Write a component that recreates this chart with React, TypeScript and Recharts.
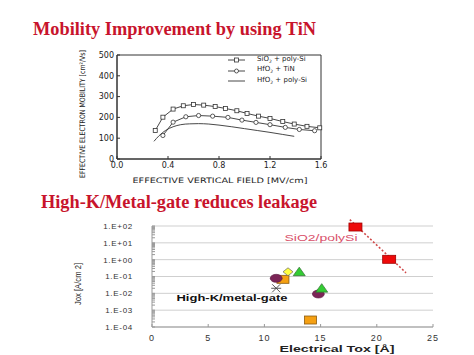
import React from 'react';
import {
  LineChart, Line, XAxis, YAxis, ReferenceArea,
  ScatterChart, Scatter, ReferenceLine,
} from 'recharts';

// ---- top chart: mobility vs effective field ----
const fieldTicks = [0, 0.4, 0.8, 1.2, 1.6];
const mobTicks = [0, 100, 200, 300, 400, 500];

const fieldSi = [0.30, 0.36, 0.44, 0.52, 0.60, 0.68, 0.77, 0.85, 0.94, 1.02, 1.11, 1.20, 1.30, 1.39, 1.49, 1.59];
const mobSi = [137, 201, 240, 256, 262, 259, 252, 243, 232, 219, 206, 195, 180, 168, 157, 150];

const fieldTiN = [0.36, 0.44, 0.54, 0.64, 0.75, 0.87, 0.98, 1.09, 1.20, 1.32, 1.43, 1.55];
const mobTiN = [113, 177, 203, 209, 206, 200, 187, 176, 165, 152, 142, 136];

const fieldPoly = [0.29, 0.33, 0.38, 0.44, 0.50, 0.57, 0.64, 0.72, 0.80, 0.90, 1.00, 1.10, 1.20, 1.30, 1.39];
const mobPoly = [85, 112, 137, 155, 165, 169, 170, 168, 163, 155, 146, 137, 128, 118, 109];

// ---- bottom chart: leakage vs electrical Tox ----
const toxTicks = [0, 5, 10, 15, 20, 25];
const joxDecades = [1e-4, 1e-3, 1e-2, 1e-1, 1, 10, 100];
const joxMinor = joxDecades.slice(0, -1).flatMap((d) => [2, 3, 4, 5, 6, 7, 8, 9].map((m) => d * m));

const sio2Tox = [18.1, 21.1];
const sio2Jox = [87, 1.05];
const sio2TrendTox = [17.6, 22.6];
const sio2TrendJox = [240, 0.166];

const orangeTox = [11.65, 14.1];
const orangeJox = [0.068, 0.00026];
const purpleTox = [11.05, 14.8];
const purpleJox = [0.078, 0.0091];
const yellowTox = [12.1];
const yellowJox = [0.19];
const greenTox = [13.1, 15.1];
const greenJox = [0.18, 0.019];
const starTox = [11.05];
const starJox = [0.02];

const pts = (xs: number[], ys: number[]) => xs.map((x, i) => ({ x, y: ys[i] }));

const INK = '#333';
const sans = 'DejaVu Sans';

const SquareDot = (p: any) => (
  <rect key={p.index} x={p.cx - 2} y={p.cy - 2} width={4} height={4} fill="#fff" stroke={INK} strokeWidth={0.8} />
);
const CircleDot = (p: any) => (
  <circle key={p.index} cx={p.cx} cy={p.cy} r={2.1} fill="#fff" stroke={INK} strokeWidth={0.8} />
);

const legendRows = [
  { name: 'SiO', rest: ' + poly-Si', mark: 'square' },
  { name: 'HfO', rest: ' + TiN', mark: 'circle' },
  { name: 'HfO', rest: ' + poly-Si', mark: 'none' },
];

const MobilityLegend = () => (
  <div style={{ position: 'absolute', left: 227, top: 55, fontFamily: sans, fontSize: 7, color: '#222', lineHeight: 1 }}>
    {legendRows.map((r, i) => (
      <div key={i} style={{ display: 'flex', alignItems: 'center', height: 10.5 }}>
        <svg width={30} height={8}>
          <line x1={1} x2={18} y1={4} y2={4} stroke={INK} strokeWidth={0.9} />
          {r.mark === 'square' && <rect x={7.5} y={2} width={4} height={4} fill="#fff" stroke={INK} strokeWidth={0.8} />}
          {r.mark === 'circle' && <circle cx={9.5} cy={4} r={2} fill="#fff" stroke={INK} strokeWidth={0.8} />}
        </svg>
        <span style={{ whiteSpace: 'nowrap' }}>
          {r.name}<sub style={{ fontSize: 4.5, verticalAlign: 'sub' }}>2</sub>{r.rest}
        </span>
      </div>
    ))}
  </div>
);

const expLabel = (v: number) => {
  const e = Math.round(Math.log10(v));
  if (Math.abs(Math.log10(v) - e) > 1e-6) return '';
  const s = e < 0 ? '-' : '+';
  return `1.E${s}${String(Math.abs(e)).padStart(2, '0')}`;
};

const RectShape = (fill: string, stroke: string, w: number, h: number) => (p: any) => (
  <rect x={p.cx - w / 2} y={p.cy - h / 2} width={w} height={h} fill={fill} stroke={stroke} strokeWidth={0.8} />
);
const EllipseShape = (p: any) => (
  <ellipse cx={p.cx} cy={p.cy} rx={6} ry={4} fill="#7b2456" stroke="#5a1a40" strokeWidth={0.6} />
);
const DiamondShape = (p: any) => (
  <polygon points={`${p.cx},${p.cy - 4} ${p.cx + 5},${p.cy} ${p.cx},${p.cy + 4} ${p.cx - 5},${p.cy}`} fill="#ffff40" stroke="#666" strokeWidth={0.7} />
);
const TriangleShape = (p: any) => (
  <polygon points={`${p.cx},${p.cy - 5} ${p.cx + 6},${p.cy + 3.5} ${p.cx - 6},${p.cy + 3.5}`} fill="#33cc33" stroke="#2f6b2f" strokeWidth={0.7} />
);
const StarShape = (p: any) => (
  <g stroke="#444" strokeWidth={0.9}>
    <line x1={p.cx - 5} x2={p.cx + 5} y1={p.cy} y2={p.cy} />
    <line x1={p.cx - 4} x2={p.cx + 4} y1={p.cy - 4} y2={p.cy + 4} />
    <line x1={p.cx - 4} x2={p.cx + 4} y1={p.cy + 4} y2={p.cy - 4} />
  </g>
);

export default function App() {
  const tickStyle = { fontFamily: sans, fontSize: 8, fill: '#222' };
  const tick2 = { fontFamily: 'Liberation Sans', fontSize: 8, fill: '#333', letterSpacing: 0.7 };
  return (
    <div style={{ position: 'absolute', left: 0, top: 0, width: 474, height: 355, background: '#fff', overflow: 'hidden' }}>
      <div style={{ position: 'absolute', left: 0, top: 0 }}>
        <LineChart width={474} height={190} margin={{ top: 55, right: 143, bottom: 0, left: 0 }}>
          <XAxis type="number" dataKey="x" domain={[0, 1.6]} ticks={fieldTicks} tickFormatter={(v) => v.toFixed(1)}
            height={31} tickSize={-3} tickMargin={6} stroke={INK} tick={tickStyle} interval={0} />
          <YAxis type="number" domain={[0, 500]} ticks={mobTicks} width={117} tickSize={-3} tickMargin={6}
            stroke={INK} tick={tickStyle} interval={0} />
          <YAxis yAxisId="r" orientation="right" type="number" domain={[0, 500]} ticks={mobTicks} width={10}
            tickSize={-3} tick={false} axisLine={false} stroke={INK} />
          <ReferenceArea x1={0} x2={1.6} y1={0} y2={500} fill="none" stroke={INK} strokeWidth={1} />
          <Line data={pts(fieldSi, mobSi)} dataKey="y" stroke={INK} strokeWidth={0.9} dot={SquareDot} isAnimationActive={false} />
          <Line data={pts(fieldTiN, mobTiN)} dataKey="y" stroke={INK} strokeWidth={0.9} dot={CircleDot} isAnimationActive={false} />
          <Line data={pts(fieldPoly, mobPoly)} dataKey="y" type="monotone" stroke={INK} strokeWidth={0.9} dot={false} isAnimationActive={false} />
        </LineChart>
      </div>
      <MobilityLegend />

      <div style={{ position: 'absolute', left: 0, top: 190 }}>
        <ScatterChart width={474} height={165} margin={{ top: 36, right: 41, bottom: 0, left: 0 }}>
          <XAxis type="number" dataKey="x" domain={[0, 25]} ticks={toxTicks} height={28} tickSize={-3} tickMargin={11}
            stroke="#999" tick={{ ...tick2, fontSize: 9, letterSpacing: 1 }} interval={0} />
          <YAxis type="number" dataKey="y" scale="log" domain={[1e-4, 100]} ticks={[...joxDecades, ...joxMinor].sort((a, b) => a - b)}
            tickFormatter={expLabel} width={152} tickSize={-3} tickMargin={22} stroke="#999" tick={tick2} interval={0} />
          {joxDecades.map((d) => (
            <ReferenceLine key={d} y={d} stroke="#cfcfcf" strokeWidth={1} />
          ))}
          <ReferenceLine segment={pts(sio2TrendTox, sio2TrendJox)} stroke="#d04848" strokeWidth={1.6} strokeDasharray="2 2" ifOverflow="visible" />
          <Scatter data={pts(orangeTox, orangeJox)} shape={RectShape('#f5a012', '#8a5a10', 12, 8)} isAnimationActive={false} />
          <Scatter data={pts(purpleTox, purpleJox)} shape={EllipseShape} isAnimationActive={false} />
          <Scatter data={pts(yellowTox, yellowJox)} shape={DiamondShape} isAnimationActive={false} />
          <Scatter data={pts(greenTox, greenJox)} shape={TriangleShape} isAnimationActive={false} />
          <Scatter data={pts(starTox, starJox)} shape={StarShape} isAnimationActive={false} />
          <Scatter data={pts(sio2Tox, sio2Jox)} shape={RectShape('#ee0a0a', '#a00000', 13, 8)} isAnimationActive={false} />
        </ScatterChart>
      </div>

      <svg width={474} height={355} style={{ position: 'absolute', left: 0, top: 0, pointerEvents: 'none' }}>
        <text x={33} y={35} fontFamily="Liberation Serif" fontWeight="bold" fontSize={18} fill="#c8142c"
          textLength={283} lengthAdjust="spacingAndGlyphs">Mobility Improvement by using TiN</text>
        <text x={220} y={183} fontFamily={sans} fontSize={7.5} fill="#222" textAnchor="middle"
          textLength={175} lengthAdjust="spacingAndGlyphs">EFFECTIVE VERTICAL FIELD [MV/cm]</text>
        <text transform="translate(85,114) rotate(-90)" fontFamily={sans} fontSize={7.5} fill="#222" textAnchor="middle"
          textLength={128} lengthAdjust="spacingAndGlyphs">EFFECTIVE ELECTRON MOBILITY [cm²/Vs]</text>

        <text x={41} y={208} fontFamily="Liberation Serif" fontWeight="bold" fontSize={18} fill="#c8142c"
          textLength={276} lengthAdjust="spacingAndGlyphs">High-K/Metal-gate reduces leakage</text>
        <text x={321} y={241} fontFamily="Liberation Sans" fontSize={9} fill="#d9506a" textAnchor="middle"
          textLength={73} lengthAdjust="spacingAndGlyphs">SiO2/polySi</text>
        <text x={232} y={301} fontFamily="Liberation Sans" fontWeight="bold" fontSize={9} fill="#111" textAnchor="middle"
          textLength={111} lengthAdjust="spacingAndGlyphs">High-K/metal-gate</text>
        <text x={337} y={352} fontFamily="Liberation Sans" fontWeight="bold" fontSize={9.5} fill="#222" textAnchor="middle"
          textLength={115} lengthAdjust="spacingAndGlyphs">Electrical Tox [Å]</text>
        <text transform="translate(81,284) rotate(-90)" fontFamily="Liberation Sans" fontSize={9.5} fill="#222" textAnchor="middle"
          textLength={42} lengthAdjust="spacingAndGlyphs">Jox [A/cm 2]</text>
      </svg>
    </div>
  );
}
